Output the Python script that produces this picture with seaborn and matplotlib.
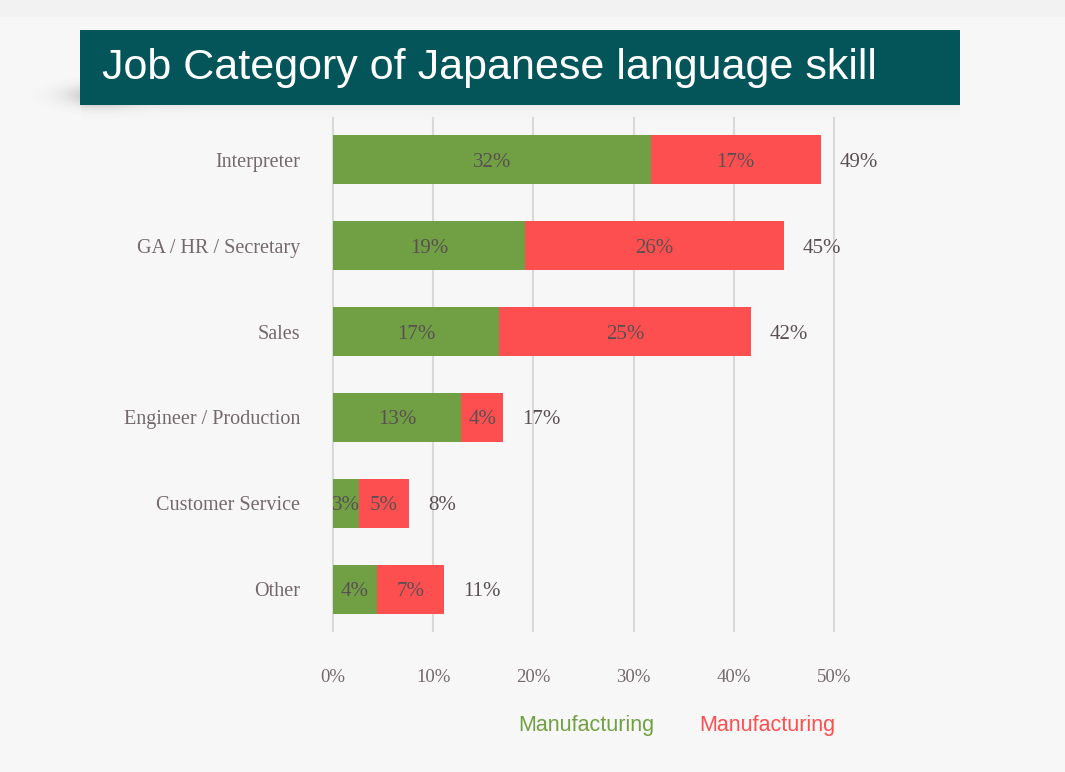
import numpy as np
import pandas as pd
import matplotlib
matplotlib.use("Agg")
import matplotlib.pyplot as plt
import seaborn as sns
from matplotlib.patches import Rectangle

# ---------------- data ----------------
categories = ["Interpreter", "GA / HR / Secretary", "Sales",
              "Engineer / Production", "Customer Service", "Other"]
green_values = [31.7, 19.2, 16.6, 12.8, 2.6, 4.4]
red_values = [17.0, 25.8, 25.1, 4.2, 5.0, 6.7]
x_ticks = [0, 10, 20, 30, 40, 50]
x_tick_labels = ["0%", "10%", "20%", "30%", "40%", "50%"]
series_names = ["Manufacturing", "Manufacturing"]
title = "Job Category of Japanese language skill"

GREEN = "#70a043"
RED = "#fd4f4f"
TICK_COLOR = "#74686c"
VALUE_COLOR = "#5a5052"

sns.set_theme(style="white")
plt.rcParams["font.family"] = ["Liberation Serif", "DejaVu Serif"]

W, H = 1065, 772
fig = plt.figure(figsize=(W / 100, H / 100), dpi=100)
fig.patch.set_facecolor("#f7f7f7")

# ---------------- background / title banner ----------------
bg = fig.add_axes([0, 0, 1, 1], zorder=-10)
bg.set_xlim(0, W)
bg.set_ylim(H, 0)
bg.axis("off")
bg.add_patch(Rectangle((0, 0), W, 17, color="#f2f2f2", lw=0))

yy, xx = np.mgrid[0:H, 0:W].astype(float)
alpha = 0.32 * np.exp(-((xx - 102) / 34.0) ** 2 - ((yy - 95) / 10.0) ** 2)
below = np.where((xx > 80) & (xx < 960) & (yy > 104),
                 0.10 * np.exp(-(yy - 104) / 5.0), 0.0)
alpha = np.clip(alpha + below, 0, 1)
shadow = np.zeros((H, W, 4))
shadow[..., :3] = 0.3
shadow[..., 3] = alpha
bg.imshow(shadow, extent=(0, W, H, 0), interpolation="bilinear", zorder=1)

bg.add_patch(Rectangle((80, 30), 880, 75, color="#04555a", lw=0, zorder=2))
bg.text(102, 68, title, ha="left", va="center", color="white",
        fontsize=31, family=["Liberation Sans", "DejaVu Sans"], zorder=3)

# ---------------- main chart ----------------
df = pd.DataFrame({"category": categories,
                   "green": green_values,
                   "red": red_values})
df["total"] = df["green"] + df["red"]

px_per_unit = 501 / 50.0
x0, x1 = -0.2, 50.2
left_px = 333 + x0 * px_per_unit
width_px = (x1 - x0) * px_per_unit
ax = fig.add_axes([left_px / W, (H - 632) / H, width_px / W, 515 / H])
ax.set_facecolor("none")

sns.barplot(data=df, y="category", x="total", color=RED, width=0.57,
            saturation=1, ax=ax, label=series_names[1], errorbar=None,
            linewidth=0, edgecolor="none")
sns.barplot(data=df, y="category", x="green", color=GREEN, width=0.57,
            saturation=1, ax=ax, label=series_names[0], errorbar=None,
            linewidth=0, edgecolor="none")

dy = 0.03
for i, row in df.iterrows():
    g, r, t = row["green"], row["red"], row["total"]
    ax.text(g / 2, i + dy, f"{g:.0f}%", ha="center", va="center",
            color=VALUE_COLOR, fontsize=15)
    ax.text(g + r / 2, i + dy, f"{r:.0f}%", ha="center", va="center",
            color=VALUE_COLOR, fontsize=15)
    ax.text(t + 1.9, i + dy, f"{t:.0f}%", ha="left", va="center",
            color=VALUE_COLOR, fontsize=15)

ax.set_xlim(x0, x1)
ax.set_ylim(5.5, -0.5)
ax.set_xticks(x_ticks)
ax.set_xticklabels(x_tick_labels)
ax.set_xlabel("")
ax.set_ylabel("")
ax.tick_params(axis="x", length=0, pad=27, labelsize=13.5, labelcolor=TICK_COLOR)
ax.tick_params(axis="y", length=0, pad=22, labelsize=14.5, labelcolor=TICK_COLOR)
for s in ax.spines.values():
    s.set_visible(False)
ax.grid(axis="x", color="#d9d9d9", lw=1.5)
ax.grid(axis="y", visible=False)
ax.set_axisbelow(True)

handles = [Rectangle((0, 0), 0, 0, alpha=0), Rectangle((0, 0), 0, 0, alpha=0)]
leg = ax.legend(handles=handles, labels=series_names, loc="center",
                bbox_to_anchor=(677 / W, (H - 725) / H),
                bbox_transform=fig.transFigure, ncol=2, frameon=False,
                handlelength=0, handletextpad=0, columnspacing=2.1,
                prop={"family": ["Liberation Sans", "DejaVu Sans"], "size": 15.5})
for txt, c in zip(leg.get_texts(), [GREEN, RED]):
    txt.set_color(c)

fig.savefig("out.png", dpi=100, facecolor=fig.get_facecolor())
